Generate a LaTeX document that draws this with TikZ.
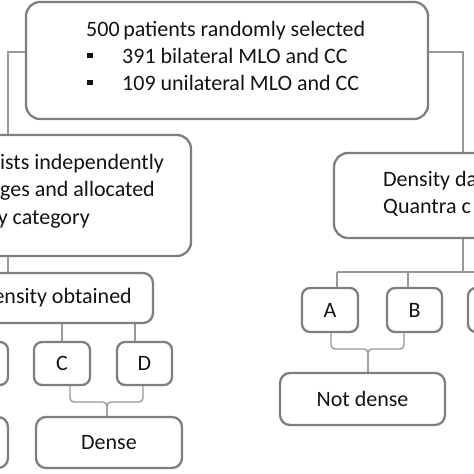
\documentclass[tikz,border=0pt]{standalone}
\usepackage{fontspec}
\setmainfont{Carlito}
\definecolor{boxgray}{RGB}{125,128,130}
\definecolor{linegray}{RGB}{150,152,154}
\definecolor{txt}{RGB}{20,20,20}
\tikzset{
  box/.style={draw=boxgray, line width=2.3pt, rounded corners=8pt, fill=white, inner sep=0pt, text=txt, font=\fontsize{22}{26}\selectfont},
  bigbox/.style={box, rounded corners=14pt},
  conn/.style={draw=linegray, line width=1.4pt},
  brace/.style={conn, rounded corners=4pt},
  txtline/.style={inner sep=0pt, text=txt, font=\fontsize{22}{26}\selectfont},
  bullet/.style={fill=txt, inner sep=0pt, minimum size=5.5pt}
}
\begin{document}
\begin{tikzpicture}[x=1pt,y=-1pt]
\useasboundingbox (0,0) rectangle (474,474);
\fill[white] (0,0) rectangle (474,474);
\clip (0,0) rectangle (474,474);

% boxes
\node[bigbox, minimum width=402pt, minimum height=117pt] (top) at (227,60.5) {};
\node[bigbox, minimum width=391pt, minimum height=121pt] (L1) at (-4.5,195.5) {};
\node[box, rounded corners=10pt, minimum width=303pt, minimum height=50pt] (L2) at (1.5,298) {};
\node[box, minimum width=56pt, minimum height=43pt] (LB) at (-20,363.5) {};
\node[box, minimum width=56pt, minimum height=43pt] (C) at (62,363.5) {C};
\node[box, minimum width=55pt, minimum height=43pt] (D) at (144.5,363.5) {D};
\node[box, rounded corners=10pt, minimum width=146pt, minimum height=51pt] (LND) at (-65,442.5) {};
\node[box, rounded corners=10pt, minimum width=146pt, minimum height=51pt] (Dense) at (109,442.5) {Dense};
\node[bigbox, minimum width=306pt, minimum height=85pt] (Q) at (487,195.5) {};
\node[box, minimum width=56pt, minimum height=44pt] (A) at (330,310) {A};
\node[box, minimum width=55pt, minimum height=44pt] (B) at (414.5,310) {B};
\node[box, minimum width=56pt, minimum height=44pt] (RC) at (496,310) {};
\node[box, rounded corners=10pt, minimum width=165pt, minimum height=52pt] (ND) at (362.5,399) {Not dense};

% texts
\node[txtline, anchor=base west] (t1) at (86,36) {500\,patients randomly selected};
\node[bullet] (b1) at (90,55.5) {};
\node[txtline, anchor=base west] (t2) at (122,63) {391 bilateral MLO and CC};
\node[bullet] (b2) at (90,82.5) {};
\node[txtline, anchor=base west] (t3) at (122,90) {109 unilateral MLO and CC};

\node[txtline, anchor=base east] (l1) at (164,169) {ists independently};
\node[txtline, anchor=base east] (l2) at (155,196.5) {ges and allocated};
\node[txtline, anchor=base east] (l3) at (90,224) {y category};
\node[txtline, anchor=base east] (l4) at (132,303) {ensity obtained};

\node[txtline, anchor=base west] (q1) at (383,186) {Density da};
\node[txtline, anchor=base west] (q2) at (383,213) {Quantra c};

% connector points
\coordinate (jl) at (8,52);
\coordinate (jr) at (463,52);
\coordinate (dx) at (135,0);
\coordinate (cb) at (70,0);
\coordinate (db) at (143,0);
\coordinate (stemL) at (107,402);
\coordinate (hb) at (463,272);
\coordinate (ha) at (337,272);
\coordinate (hz) at (560,272);
\coordinate (bb) at (408,272);
\coordinate (ab) at (331,0);
\coordinate (bbb) at (404,0);
\coordinate (stemR) at (368,349);

% connectors
\draw[conn] (top.west |- jl) -- (jl) -- (jl |- L1.north);
\draw[conn] (top.east |- jr) -- (jr) -- (jr |- Q.north);
\draw[conn] (L1.south -| jl) -- (L2.north -| jl);
\draw[conn] (C.north |- L2.south) -- (C.north);
\draw[conn] (dx |- L2.south) -- (dx |- D.north);
\draw[brace] (cb |- C.south) -- (cb |- stemL) -- (stemL) -- (stemL |- Dense.north);
\draw[brace] (db |- D.south) -- (db |- stemL) -- (stemL) -- (stemL |- Dense.north);

\draw[conn] (jr |- Q.south) -- (hb);
\draw[conn] (ha) -- (hz);
\draw[conn] (ha) -- (ha |- A.north);
\draw[conn] (bb) -- (bb |- B.north);
\draw[brace] (ab |- A.south) -- (ab |- stemR) -- (stemR) -- (stemR |- ND.north);
\draw[brace] (bbb |- B.south) -- (bbb |- stemR) -- (stemR) -- (stemR |- ND.north);
\end{tikzpicture}
\end{document}
